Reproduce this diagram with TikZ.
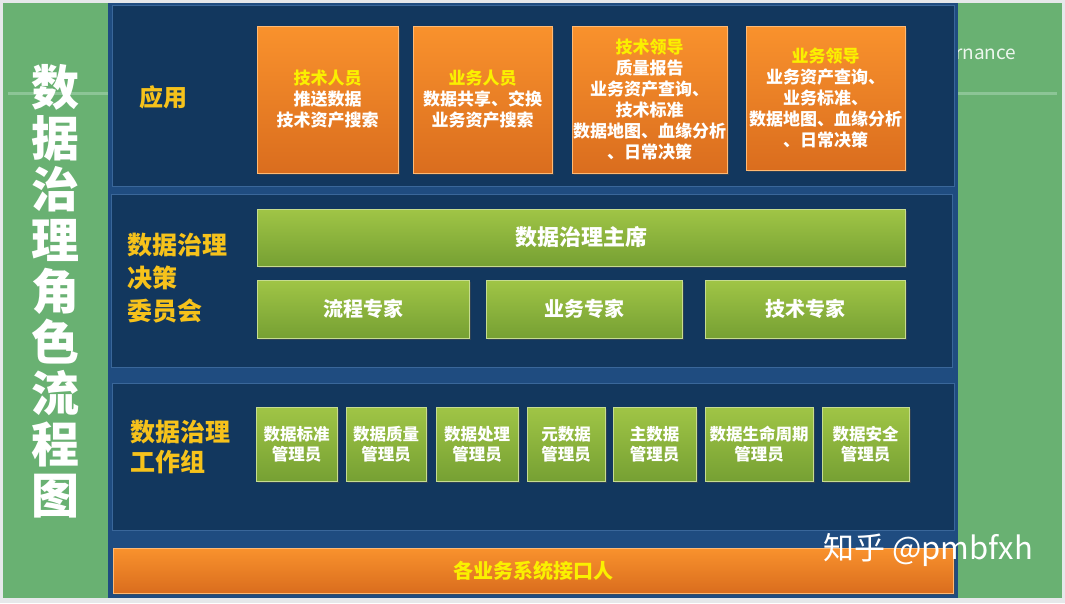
\documentclass[tikz,border=0pt]{standalone}
\usepackage{fontspec}
\setmainfont{Noto Sans CJK SC}
\usetikzlibrary{shadows}
\definecolor{framegray}{HTML}{E6E8EA}
\definecolor{sidegreen}{HTML}{69B172}
\definecolor{sideline}{HTML}{8CC596}
\definecolor{backblue}{HTML}{1F4C80}
\definecolor{panelblue}{HTML}{12375E}
\definecolor{panelline}{HTML}{3A679A}
\definecolor{ortop}{HTML}{F9922D}
\definecolor{orbot}{HTML}{DA6D1E}
\definecolor{grtop}{HTML}{A0C546}
\definecolor{grbot}{HTML}{76A033}
\definecolor{gold}{HTML}{F6C21B}
\definecolor{hdyellow}{HTML}{FAF000}

\tikzset{
  panel/.style={fill=panelblue, draw=panelline, line width=0.8pt},
  orangebox/.style={draw=orange!55!white, line width=0.6pt, top color=ortop, bottom color=orbot,
    inner sep=0pt, text=white, align=center, font=\fontsize{17}{21}\bfseries\selectfont,
    drop shadow={shadow xshift=2pt, shadow yshift=-2pt, fill=black!70}},
  greenbox/.style={draw=grtop!60!white, line width=0.6pt, top color=grtop, bottom color=grbot,
    inner sep=0pt, text=white, align=center,
    drop shadow={shadow xshift=2pt, shadow yshift=-2pt, fill=black!70}},
  rolebox/.style={greenbox, minimum height=74pt, font=\fontsize{16.5}{20}\bfseries\selectfont},
  title/.style={text=gold, align=left, anchor=west, inner sep=0pt}
}

\begin{document}
\begin{tikzpicture}[x=1pt, y=-1pt]
\useasboundingbox (0,0) rectangle (1065,603);
% background
\fill[framegray] (0,0) rectangle (1065,603);
\fill[sidegreen] (3,3) rectangle (1062,598);
\draw[sideline, line width=3pt] (8,93) -- (108,93);
\draw[sideline, line width=3pt] (958,93) -- (1057,93);
\node[anchor=west, inner sep=0pt, text=white!88!sidegreen, font=\fontsize{19}{19}\selectfont] (gov) at (955,54) {rnance};
\fill[backblue] (108,3) rectangle (958,598);
\draw[panel] (112,5) rectangle (954,186);
\draw[panel] (111,194) rectangle (952,367);
\draw[panel] (112,383) rectangle (954,530);

\node[text=white, align=center, inner sep=0pt, font=\fontsize{48}{51}\bfseries\selectfont] (maintitle) at (55,291)
  {数\\据\\治\\理\\角\\色\\流\\程\\图};

% applications
\node[title, font=\fontsize{24}{24}\bfseries\selectfont] (app) at (139,97) {应用};
\node[orangebox, minimum width=141pt, minimum height=147pt] (tech) at (327.5,99.5)
  {\textcolor{hdyellow}{技术人员}\\推送数据\\技术资产搜索};
\node[orangebox, minimum width=139pt, minimum height=147pt] (biz) at (482.5,99.5)
  {\textcolor{hdyellow}{业务人员}\\数据共享、交换\\业务资产搜索};
\node[orangebox, minimum width=155pt, minimum height=147pt] (techlead) at (649.5,99.5)
  {\textcolor{hdyellow}{技术领导}\\质量报告\\业务资产查询、\\技术标准\\数据地图、血缘分析\\、日常决策};
\node[orangebox, minimum width=159pt, minimum height=144pt] (bizlead) at (825.5,98)
  {\textcolor{hdyellow}{业务领导}\\业务资产查询、\\业务标准、\\数据地图、血缘分析\\、日常决策};

% committee
\node[title, font=\fontsize{25}{33}\bfseries\selectfont] (cmt) at (127,278) {数据治理\\决策\\委员会};
\node[greenbox, minimum width=648pt, minimum height=57pt, font=\fontsize{22}{22}\bfseries\selectfont] (chair) at (581,237.5) {数据治理主席};
\node[greenbox, minimum width=212pt, minimum height=58pt, font=\fontsize{20}{20}\bfseries\selectfont] (flow) at (363,309) {流程专家};
\node[greenbox, minimum width=196pt, minimum height=58pt, font=\fontsize{20}{20}\bfseries\selectfont] (bizexp) at (584,309) {业务专家};
\node[greenbox, minimum width=200pt, minimum height=58pt, font=\fontsize{20}{20}\bfseries\selectfont] (techexp) at (805,309) {技术专家};

% working group
\node[title, font=\fontsize{25}{30}\bfseries\selectfont] (wg) at (130,447) {数据治理\\工作组};
\node[rolebox, minimum width=81pt] (std) at (296.5,444) {数据标准\\管理员};
\node[rolebox, minimum width=80pt] (qual) at (386,444) {数据质量\\管理员};
\node[rolebox, minimum width=82pt] (proc) at (477,444) {数据处理\\管理员};
\node[rolebox, minimum width=78pt] (meta) at (566,444) {元数据\\管理员};
\node[rolebox, minimum width=83pt] (master) at (654.5,444) {主数据\\管理员};
\node[rolebox, minimum width=108pt] (life) at (759,444) {数据生命周期\\管理员};
\node[rolebox, minimum width=87pt] (sec) at (865.5,444) {数据安全\\管理员};

% interface
\node[orangebox, minimum width=840pt, minimum height=45pt, text=hdyellow, font=\fontsize{20}{20}\bfseries\selectfont] (iface) at (533,570.5) {各业务系统接口人};

\node[text=white, inner sep=0pt, font=\fontsize{31}{31}\selectfont] (mark) at (928,550) {知乎 @pmbfxh};
\end{tikzpicture}
\end{document}
